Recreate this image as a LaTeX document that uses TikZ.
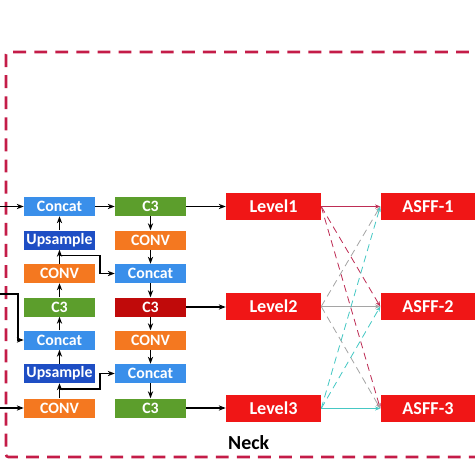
\documentclass[tikz,border=0pt]{standalone}
\usepackage{fontspec}
\setmainfont{Carlito}
\usetikzlibrary{arrows.meta}

\definecolor{catblue}{RGB}{58,143,234}
\definecolor{upblue}{RGB}{30,78,196}
\definecolor{convorange}{RGB}{244,120,32}
\definecolor{cgreen}{RGB}{92,158,44}
\definecolor{cdarkred}{RGB}{192,10,10}
\definecolor{lvred}{RGB}{240,22,22}
\definecolor{neckred}{RGB}{196,28,72}
\definecolor{fuseone}{RGB}{190,45,85}
\definecolor{fusetwo}{RGB}{165,165,165}
\definecolor{fusethree}{RGB}{70,200,196}

\tikzset{
  blk/.style={fill=#1, text=white, inner sep=0pt, minimum width=2.13cm,
    minimum height=0.57cm, font=\fontsize{13.5}{15}\selectfont\bfseries},
  lvl/.style={fill=lvred, text=white, inner sep=0pt, minimum width=2.85cm,
    minimum height=0.81cm, font=\fontsize{15.5}{17}\selectfont\bfseries},
  flow/.style={-{Stealth[length=6pt,width=4.5pt]}, line width=1.1pt},
  fuse/.style={-{Stealth[length=4.5pt,width=3.5pt]}, line width=0.7pt, draw=#1},
  fusedash/.style={fuse=#1, dash pattern=on 6pt off 4pt}
}

\begin{document}
\begin{tikzpicture}[x=0.03cm, y=-0.03cm]
  \useasboundingbox (0,0) rectangle (474,474);

  % 1. Neck frame
  \draw[neckred, line width=2.2pt, dash pattern=on 11pt off 7pt, rounded corners=2pt]
    (490,52) -- (6,52) -- (6,457) -- (490,457);
  \node[anchor=west, font=\fontsize{17}{19}\selectfont\bfseries] (neck) at (224,443) {Neck};

  % 2. left column
  \node[blk=catblue]    (cat1) at (59.5,206.5) {Concat};
  \node[blk=upblue]     (up1)  at (59.5,240)   {Upsample};
  \node[blk=convorange] (cv1)  at (59.5,273.5) {CONV};
  \node[blk=cgreen]     (c31)  at (59.5,307)   {C3};
  \node[blk=catblue]    (cat2) at (59.5,340)   {Concat};
  \node[blk=upblue]     (up2)  at (59.5,373.5) {Upsample};
  \node[blk=convorange] (cv2)  at (59.5,408)   {CONV};

  % 3. right column
  \node[blk=cgreen]     (c3a)  at (150.5,206.5) {C3};
  \node[blk=convorange] (cv3)  at (150.5,240)   {CONV};
  \node[blk=catblue]    (cat3) at (150.5,273.5) {Concat};
  \node[blk=cdarkred]   (c3b)  at (150.5,307)   {C3};
  \node[blk=convorange] (cv4)  at (150.5,340)   {CONV};
  \node[blk=catblue]    (cat4) at (150.5,373.5) {Concat};
  \node[blk=cgreen]     (c3c)  at (150.5,408)   {C3};

  % 4. levels and ASFF
  \node[lvl] (lv1) at (273.5,206.5) {Level1};
  \node[lvl] (lv2) at (273.5,306.5) {Level2};
  \node[lvl] (lv3) at (273.5,408.5) {Level3};
  \node[lvl] (af1) at (428,206.5) {ASFF-1};
  \node[lvl] (af2) at (428,306.5) {ASFF-2};
  \node[lvl] (af3) at (428,408.5) {ASFF-3};

  % 5. inputs from the backbone
  \coordinate (in1) at (0,206.5);
  \coordinate (in2) at (0,294);
  \coordinate (bend2) at (18,294);
  \coordinate (in3) at (0,408);
  \draw[flow] (in1) -- (cat1);
  \draw[flow] (in2) -- (bend2) |- (cat2.west);
  \draw[flow] (in3) -- (cv2);

  % 6. bottom-up path (left column)
  \draw[flow] (cv2) -- (up2);
  \draw[flow] (up2) -- (cat2);
  \draw[flow] (cat2) -- (c31);
  \draw[flow] (c31) -- (cv1);
  \draw[flow] (cv1) -- (up1);
  \draw[flow] (up1) -- (cat1);
  \draw[flow] ([yshift=0.25cm]cv1.north) -- ++(40.5,0) |- (cat3.west);
  \draw[flow] ([yshift=0.28cm]cv2.north) -- ++(40.5,0) |- (cat4.west);

  % 7. top-down path (right column)
  \draw[flow] (cat1) -- (c3a);
  \draw[flow] (c3a) -- (cv3);
  \draw[flow] (cv3) -- (cat3);
  \draw[flow] (cat3) -- (c3b);
  \draw[flow] (c3b) -- (cv4);
  \draw[flow] (cv4) -- (cat4);
  \draw[flow] (cat4) -- (c3c);
  \draw[flow] (c3a) -- (lv1);
  \draw[flow] (c3b) -- (c3b -| lv2.west);
  \draw[flow] (c3c) -- (c3c -| lv3.west);

  % 8. adaptive spatial feature fusion
  \draw[fuse=fuseone]       (lv1.east) -- (af1.west);
  \draw[fusedash=fuseone]   (lv1.east) -- (af2.west);
  \draw[fusedash=fuseone]   (lv1.east) -- (af3.west);
  \draw[fusedash=fusetwo]   (lv2.east) -- (af1.west);
  \draw[fuse=fusetwo]       (lv2.east) -- (af2.west);
  \draw[fusedash=fusetwo]   (lv2.east) -- (af3.west);
  \draw[fusedash=fusethree] (lv3.east) -- (af1.west);
  \draw[fusedash=fusethree] (lv3.east) -- (af2.west);
  \draw[fuse=fusethree]     (lv3.east) -- (af3.west);
\end{tikzpicture}
\end{document}
